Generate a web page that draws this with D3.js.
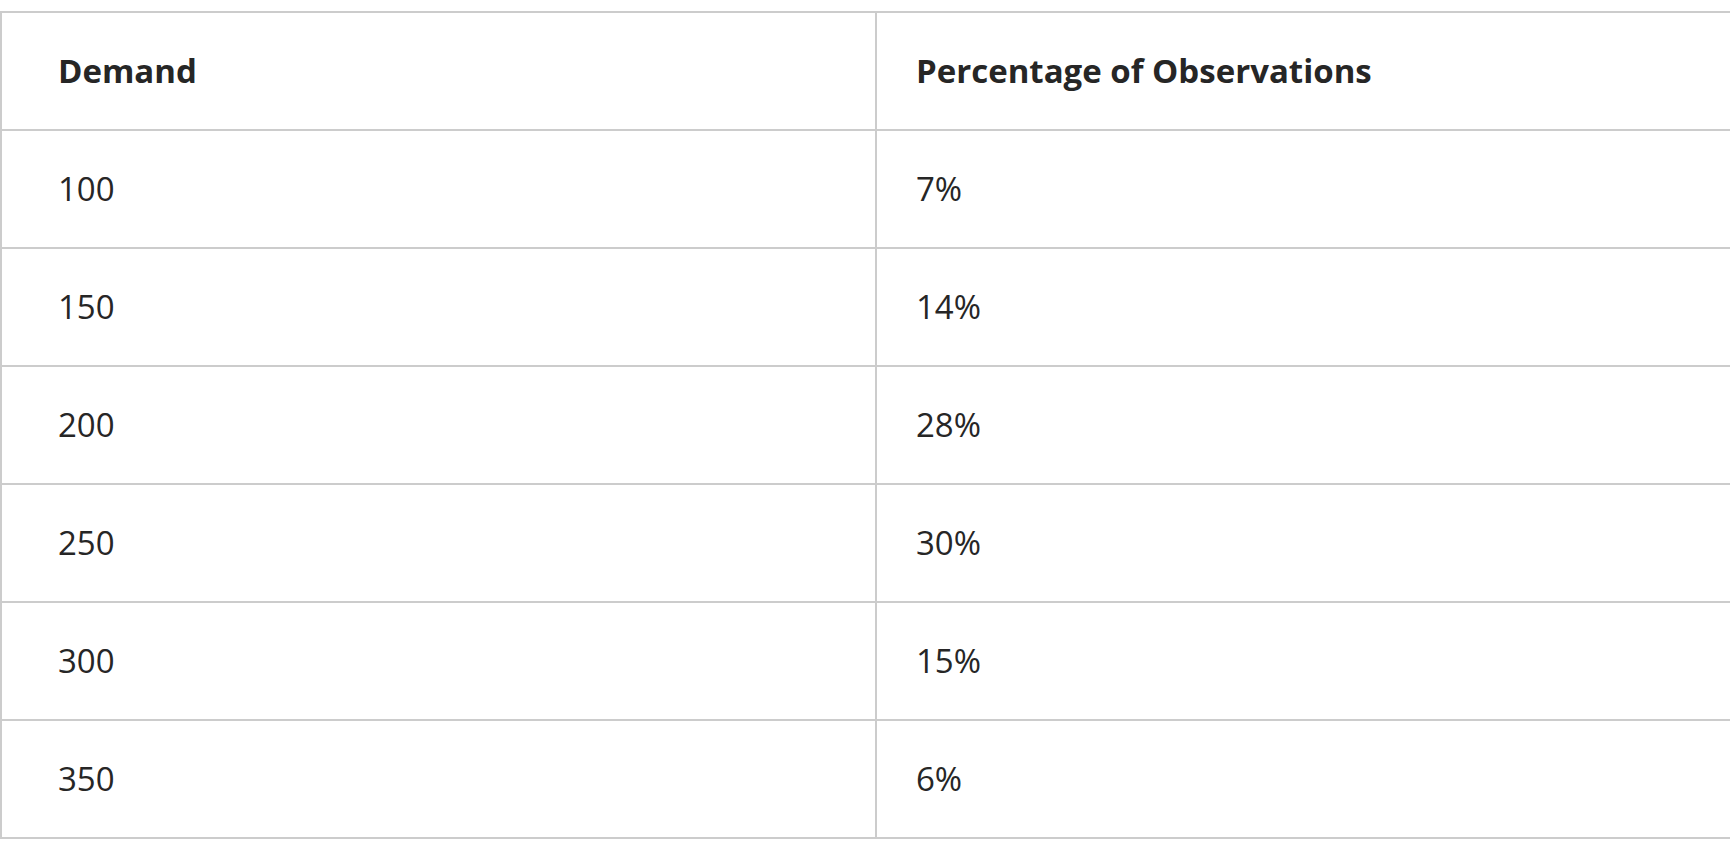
<!DOCTYPE html><html><head><meta charset="utf-8"><script src="https://cdn.jsdelivr.net/npm/d3@7"></script>
<style>body{margin:0;background:#fff}</style></head><body><svg id="c" width="1730" height="846"></svg><script>
const headers=["Demand","Percentage of Observations"];
const demand=[100,150,200,250,300,350];
const percent=["7%","14%","28%","30%","15%","6%"];
const svg=d3.select("#c");
const top0=12, rowH=118, nRows=demand.length+1;
const y=d3.scaleLinear().domain([0,nRows]).range([top0,top0+rowH*nRows]);
const colX=[0,876,1740];
const line="#cccccc", txt="#262626";
// horizontal lines
svg.selectAll("line.h").data(d3.range(nRows+1)).join("line")
 .attr("x1",0).attr("x2",1730).attr("y1",d=>y(d)).attr("y2",d=>y(d)).attr("stroke",line).attr("stroke-width",2);
svg.selectAll("line.v").data([1,876]).join("line")
 .attr("x1",d=>d).attr("x2",d=>d).attr("y1",y(0)).attr("y2",y(nRows)).attr("stroke",line).attr("stroke-width",2);
const rows=[headers,...demand.map((d,i)=>[String(d),percent[i]])];
rows.forEach((r,i)=>{
 r.forEach((t,j)=>{
  svg.append("text").attr("x",colX[j]+(j==0?58:40)).attr("y",y(i)+rowH/2).attr("dy","0.35em")
   .attr("font-family","Open Sans").attr("font-size",33).attr("font-weight",i==0?700:400)
   .attr("fill",txt).text(t);
 });
});
</script></body></html>
